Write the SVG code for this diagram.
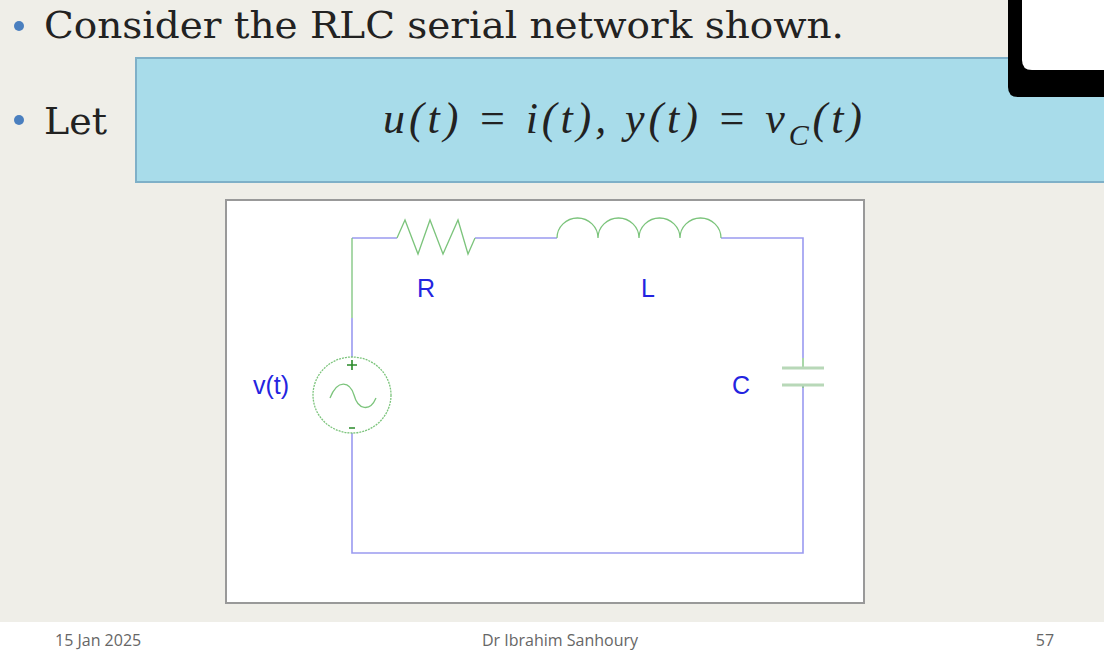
<svg xmlns="http://www.w3.org/2000/svg" width="1104" height="664" viewBox="0 0 1104 664">
<style>
.g{fill:none;stroke:#7cc47c;stroke-width:1.3}
.b{fill:none;stroke:#9a9af0;stroke-width:1.6}
.lbl{font-family:"Liberation Sans",Arial,sans-serif;font-size:25px;fill:#2424e0}
.ser{font-family:"DejaVu Serif","Liberation Serif",serif;fill:#222}
.ft{font-family:"Open Sans","Liberation Sans",sans-serif;font-size:16px;fill:#666}
</style>
<rect width="1104" height="664" fill="#efeee8"/>
<rect x="0" y="622" width="1104" height="42" fill="#ffffff"/>
<g id="title">
<circle cx="19" cy="26" r="5" fill="#4a7fbf"/>
<text x="44" y="38" class="ser" font-size="38" textLength="800" lengthAdjust="spacingAndGlyphs">Consider the RLC serial network shown.</text>
<circle cx="19" cy="120" r="5" fill="#4a7fbf"/>
<text x="44" y="134" class="ser" font-size="38" textLength="63" lengthAdjust="spacingAndGlyphs">Let</text>
</g>
<g id="formula">
<rect x="136" y="58" width="980" height="124" fill="#a8dcea" stroke="#7fb0c8" stroke-width="2"/>
<text x="383" y="133" font-family="Liberation Serif,serif" fill="#222" font-size="44" font-style="italic" textLength="479" lengthAdjust="spacing">u(t) = i(t),  y(t) = v<tspan font-size="30" dy="12">C</tspan><tspan dy="-12">(t)</tspan></text>
</g>
<path d="M1008 0 H1104 V97 H1018 Q1008 97 1008 87 Z" fill="#000"/>
<path d="M1022 0 H1104 V70 H1032 Q1022 70 1022 60 Z" fill="#fff"/>
<g id="circuit">
<rect x="226" y="200" width="638" height="403" fill="#fff" stroke="#999" stroke-width="2"/>
<g id="connectors">
<path class="b" d="M352 238 H397 M475 238 H557 M721 238 H803 V358 M803 385 V553 H352 V433 M352 318 V357"/>
<path class="g" d="M352 238 V318 M803 358 V368 M803 385 V388"/>
</g>
<g id="R"><path class="g" d="M397 238 L405 220 L418 254 L430 220 L443 254 L458 220 L468 254 L475 238"/>
<text x="426" y="297" class="lbl" text-anchor="middle">R</text></g>
<g id="L"><path class="g" d="M557 238 A20.5 20 0 0 1 598 238 A20.5 20 0 0 1 639 238 A20.5 20 0 0 1 680 238 A20.5 20 0 0 1 721 238"/>
<text x="648" y="297" class="lbl" text-anchor="middle">L</text></g>
<g id="C"><path d="M782 368 H824 M782 385 H824" stroke="#b8d8b8" stroke-width="3"/>
<text x="741" y="394" class="lbl" text-anchor="middle">C</text></g>
<g id="V"><ellipse cx="352" cy="395" rx="39" ry="38" class="g" stroke-dasharray="2 1"/>
<path class="g" d="M330 398 C338 378 350 382 354 395 C358 410 370 412 376 398"/>
<path d="M347 365 H357 M352 360 V370 M349 428 H355" stroke="#2a8a2a" stroke-width="1.6"/>
<text x="271" y="394" class="lbl" text-anchor="middle">v(t)</text></g>
</g>
<g id="footer">
<text x="55" y="646" class="ft">15 Jan 2025</text>
<text x="560" y="646" class="ft" text-anchor="middle">Dr Ibrahim Sanhoury</text>
<text x="1045" y="646" class="ft" text-anchor="middle">57</text>
</g>
</svg>
